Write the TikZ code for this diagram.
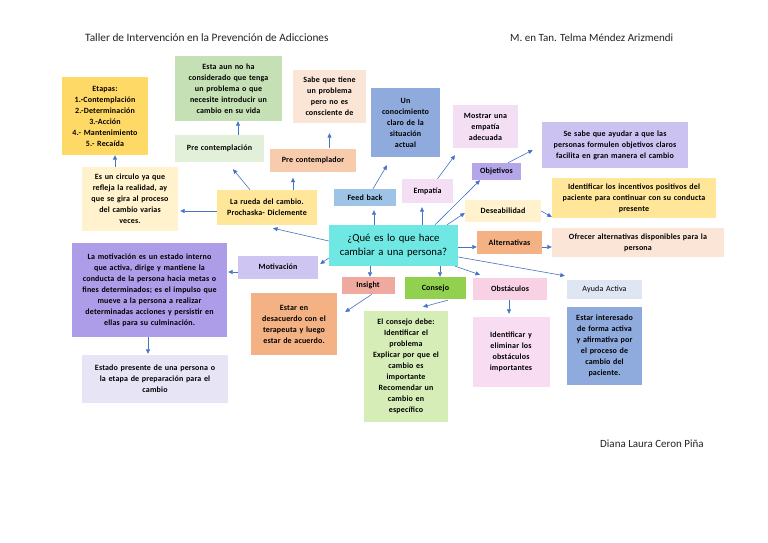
\documentclass[tikz,border=0pt]{standalone}
\usepackage{fontspec}
\setmainfont{Carlito}
\newfontfamily\bxf[LetterSpace=2]{Carlito}
\usetikzlibrary{arrows.meta}
\definecolor{cEtapas}{HTML}{FFD966}
\definecolor{cGreenA}{HTML}{C5E0B4}
\definecolor{cGreenB}{HTML}{E2F0D9}
\definecolor{cPeachL}{HTML}{FBE5D6}
\definecolor{cPeachM}{HTML}{F8CBAD}
\definecolor{cBlueM}{HTML}{8FAADC}
\definecolor{cPinkL}{HTML}{F4DEF4}
\definecolor{cLavL}{HTML}{CCC2F2}
\definecolor{cPurpM}{HTML}{B5A6EA}
\definecolor{cBlueL}{HTML}{9DC3E6}
\definecolor{cYellowP}{HTML}{FFF2CC}
\definecolor{cYellowM}{HTML}{FFE699}
\definecolor{cCyan}{HTML}{6FE8E4}
\definecolor{cOrange}{HTML}{F4B183}
\definecolor{cLavMot}{HTML}{CFC5F2}
\definecolor{cPurpBig}{HTML}{AD9CE8}
\definecolor{cInsight}{HTML}{F0A99E}
\definecolor{cGreen}{HTML}{92D050}
\definecolor{cPinkObs}{HTML}{F8D2E4}
\definecolor{cAyuda}{HTML}{DEE6F4}
\definecolor{cGreenL}{HTML}{D6EDB8}
\definecolor{cPinkE}{HTML}{F8DCF2}
\definecolor{cEstado}{HTML}{E7E4F6}
\definecolor{arrowblue}{HTML}{4472C4}
\definecolor{hdr}{HTML}{222222}
\tikzset{
  bx/.style={rectangle, inner sep=0pt, align=center, draw=none,
    font=\bxf\bfseries\fontsize{8}{11}\selectfont},
  hd/.style={anchor=west, inner sep=0pt, text=hdr, font=\fontsize{11}{13}\selectfont},
  arr/.style={draw=arrowblue, line width=0.6pt, -{Triangle[length=4.5pt,width=4pt]}}
}
\begin{document}
\begin{tikzpicture}[x=1pt,y=-1pt]
\useasboundingbox[fill=white] (0,0) rectangle (768,543);

\node[hd, font=\fontsize{11.3}{13}\selectfont] (title) at (85,38) {Taller de Intervención en la Prevención de Adicciones};
\node[hd] (teacher) at (510,38) {M. en Tan. Telma Méndez Arizmendi};
\node[hd] (author) at (600,444) {Diana Laura Ceron Piña};

\node[bx, fill=cEtapas, minimum width=86pt, minimum height=78pt, text width=84pt] (etapas) at (105,116)
  {Etapas:\\1.-Contemplación\\2.-Determinación\\3.-Acción\\4.- Mantenimiento\\5.- Recaída};
\node[bx, fill=cGreenA, minimum width=107pt, minimum height=65pt, text width=105pt] (sinprob) at (228.5,88.5)
  {Esta aun no ha\\considerado que tenga\\un problema o que\\necesite introducir un\\cambio en su vida};
\node[bx, fill=cGreenB, minimum width=89pt, minimum height=27pt, text width=87pt] (precontemp) at (219.5,148.5)
  {Pre contemplación};
\node[bx, fill=cPeachL, minimum width=73pt, minimum height=53pt, text width=71pt] (sabeque) at (329.5,96.5)
  {Sabe que tiene\\un problema\\pero no es\\consciente de};
\node[bx, fill=cPeachM, minimum width=86pt, minimum height=23pt, text width=84pt] (precontempl) at (313,160)
  {Pre contemplador};
\node[bx, fill=cBlueM, minimum width=69pt, minimum height=69pt, text width=67pt] (conoc) at (405.5,122.5)
  {Un\\conocimiento\\claro de la\\situación\\actual};
\node[bx, fill=cPinkL, minimum width=65pt, minimum height=43pt, text width=63pt] (mostrar) at (485.5,126.5)
  {Mostrar una\\empatía\\adecuada};
\node[bx, fill=cLavL, minimum width=146pt, minimum height=46pt, text width=144pt] (sesabe) at (615,145)
  {Se sabe que ayudar a que las\\personas formulen objetivos claros\\facilita en gran manera el cambio};
\node[bx, fill=cPurpM, minimum width=49pt, minimum height=17pt, text width=47pt] (objetivos) at (496.5,171.5)
  {Objetivos};
\node[bx, fill=cPinkL, minimum width=51pt, minimum height=24pt, text width=49pt] (empatia) at (427.5,191)
  {Empatía};
\node[bx, fill=cBlueL, minimum width=62pt, minimum height=17pt, text width=60pt] (feedback) at (365,197.5)
  {Feed back};
\node[bx, fill=cYellowP, minimum width=76pt, minimum height=22pt, text width=74pt] (deseab) at (503,211)
  {Deseabilidad};
\node[bx, fill=cYellowM, minimum width=164pt, minimum height=40pt, text width=162pt] (incent) at (634,198)
  {Identificar los incentivos positivos del\\paciente para continuar con su conducta\\presente};
\node[bx, fill=cYellowP, minimum width=96pt, minimum height=64pt, text width=94pt] (circulo) at (130,199)
  {Es un circulo ya que\\refleja la realidad, ay\\que se gira al proceso\\del cambio varias\\veces.};
\node[bx, fill=cYellowM, minimum width=100pt, minimum height=35pt, text width=98pt] (rueda) at (267,207.5)
  {La rueda del cambio.\\Prochaska- Diclemente};
\node[bx, fill=cCyan, minimum width=129pt, minimum height=41pt, text width=127pt,
  font=\fontsize{10.7}{14}\selectfont] (central) at (393.5,245.5)
  {¿Qué es lo que hace\\cambiar a una persona?};
\node[bx, fill=cOrange, minimum width=65pt, minimum height=23pt, text width=63pt] (alternat) at (509.5,242.5)
  {Alternativas};
\node[bx, fill=cPeachL, minimum width=172pt, minimum height=29pt, text width=170pt] (ofrecer) at (638,242.5)
  {Ofrecer alternativas disponibles para la\\persona};
\node[bx, fill=cLavMot, minimum width=80pt, minimum height=23pt, text width=78pt] (motivac) at (278,267)
  {Motivación};
\node[bx, fill=cPurpBig, minimum width=155pt, minimum height=94pt, text width=153pt] (motivtxt) at (149.5,290)
  {La motivación es un estado interno\\que activa, dirige y mantiene la\\conducta de la persona hacia metas o\\fines determinados; es el impulso que\\mueve a la persona a realizar\\determinadas acciones y persistir en\\ellas para su culminación.};
\node[bx, fill=cInsight, minimum width=53pt, minimum height=17pt, text width=51pt] (insight) at (368,285.5)
  {Insight};
\node[bx, fill=cGreen, minimum width=61pt, minimum height=22pt, text width=59pt] (consejo) at (435.5,288)
  {Consejo};
\node[bx, fill=cPinkObs, minimum width=74pt, minimum height=22pt, text width=72pt] (obstac) at (510,289)
  {Obstáculos};
\node[bx, fill=cAyuda, minimum width=75pt, minimum height=19pt, text width=73pt,
  font=\bxf\fontsize{8}{11}\selectfont] (ayuda) at (604.5,289.5)
  {Ayuda Activa};
\node[bx, fill=cOrange, minimum width=86pt, minimum height=62pt, text width=84pt] (desac) at (294,324)
  {Estar en\\desacuerdo con el\\terapeuta y luego\\estar de acuerdo.};
\node[bx, fill=cGreenL, minimum width=84pt, minimum height=111pt, text width=82pt] (consejotxt) at (406,366.5)
  {El consejo debe:\\Identificar el\\problema\\Explicar por que el\\cambio es\\importante\\Recomendar un\\cambio en\\específico};
\node[bx, fill=cPinkE, minimum width=77pt, minimum height=70pt, text width=75pt] (elimin) at (511,352)
  {Identificar y\\eliminar los\\obstáculos\\importantes};
\node[bx, fill=cBlueM, minimum width=75pt, minimum height=78pt, text width=73pt] (interes) at (604.5,346)
  {Estar interesado\\de forma activa\\y afirmativa por\\el proceso de\\cambio del\\paciente.};
\node[bx, fill=cEstado, minimum width=146pt, minimum height=48pt, text width=144pt] (estado) at (155,379)
  {Estado presente de una persona o\\la etapa de preparación para el\\cambio};

% connectors
\draw[arr] ([xshift=-15pt]circulo.north) -- ([xshift=10pt]etapas.south);
\draw[arr] ([xshift=18.5pt]precontemp.north) -- ([xshift=9.5pt]sinprob.south);
\draw[arr] ([xshift=16.5pt]precontempl.north) -- ([yshift=-10pt]sabeque.south);
\draw[arr] ([xshift=-17pt]rueda.north) -- ([xshift=13.5pt,yshift=-7pt]precontemp.south);
\draw[arr] ([xshift=26pt]rueda.north) -- ([xshift=-20pt,yshift=-6pt]precontempl.south);
\draw[arr] ([yshift=-3.5pt]rueda.west) -- ([xshift=2pt,yshift=-12pt]circulo.east);
\draw[arr] ([yshift=4.5pt]central.west) -- ([xshift=6pt,yshift=-3pt]rueda.south);
\draw[arr] ([xshift=-19.5pt]central.north) -- ([xshift=9pt,yshift=-4pt]feedback.south);
\draw[arr] ([xshift=8pt]feedback.north) -- ([xshift=-18.5pt,yshift=-8pt]conoc.south);
\draw[arr] ([xshift=28.5pt]central.north) -- ([xshift=-5.5pt,yshift=-4pt]empatia.south);
\draw[arr] ([xshift=10pt]empatia.north) -- ([xshift=-30.5pt,yshift=-7pt]mostrar.south);
\draw[arr] ([xshift=41.5pt]central.north) -- ([xshift=-16.5pt]objetivos.south);
\draw[arr] ([xshift=11.5pt]objetivos.north) -- ([xshift=-9pt,yshift=-5pt]sesabe.west);
\draw[arr] ([xshift=53.5pt]central.north) -- ([yshift=-2pt]deseab.west);
\draw[arr] (deseab.east) -- ([yshift=-19pt]incent.west);
\draw[arr] ([yshift=-1.5pt]central.east) -- ([yshift=-4.5pt]alternat.west);
\draw[arr] ([yshift=-4.5pt]alternat.east) -- ([yshift=-4.5pt]ofrecer.west);
\draw[arr] ([yshift=-11.5pt]central.east) -- ([xshift=-2pt,yshift=4pt]ayuda.north west);
\draw[arr] ([xshift=-3pt]central.south east) -- ([xshift=-30pt,yshift=3pt]obstac.north);
\draw[arr] ([xshift=46.5pt]central.south) -- ([xshift=4.5pt]consejo.north);
\draw[arr] ([xshift=-23.5pt]central.south) -- ([xshift=2pt]insight.north);
\draw[arr] ([xshift=4pt]insight.south) -- ([xshift=8pt,yshift=12pt]desac.east);
\draw[arr] ([xshift=12.5pt,yshift=-1pt]consejo.south) -- ([xshift=17pt,yshift=4pt]consejotxt.north);
\draw[arr] ([yshift=-12.5pt]central.west) -- ([xshift=2pt,yshift=3pt]motivac.east);
\draw[arr] ([yshift=-5pt]motivac.west) -- ([xshift=1pt,yshift=18pt]motivtxt.east);
\draw[arr] ([xshift=-1.5pt]motivtxt.south) -- ([xshift=-7pt,yshift=1pt]estado.north);
\draw[arr] ([xshift=-1pt]obstac.south) -- ([xshift=-2pt,yshift=3pt]elimin.north);
\end{tikzpicture}
\end{document}
